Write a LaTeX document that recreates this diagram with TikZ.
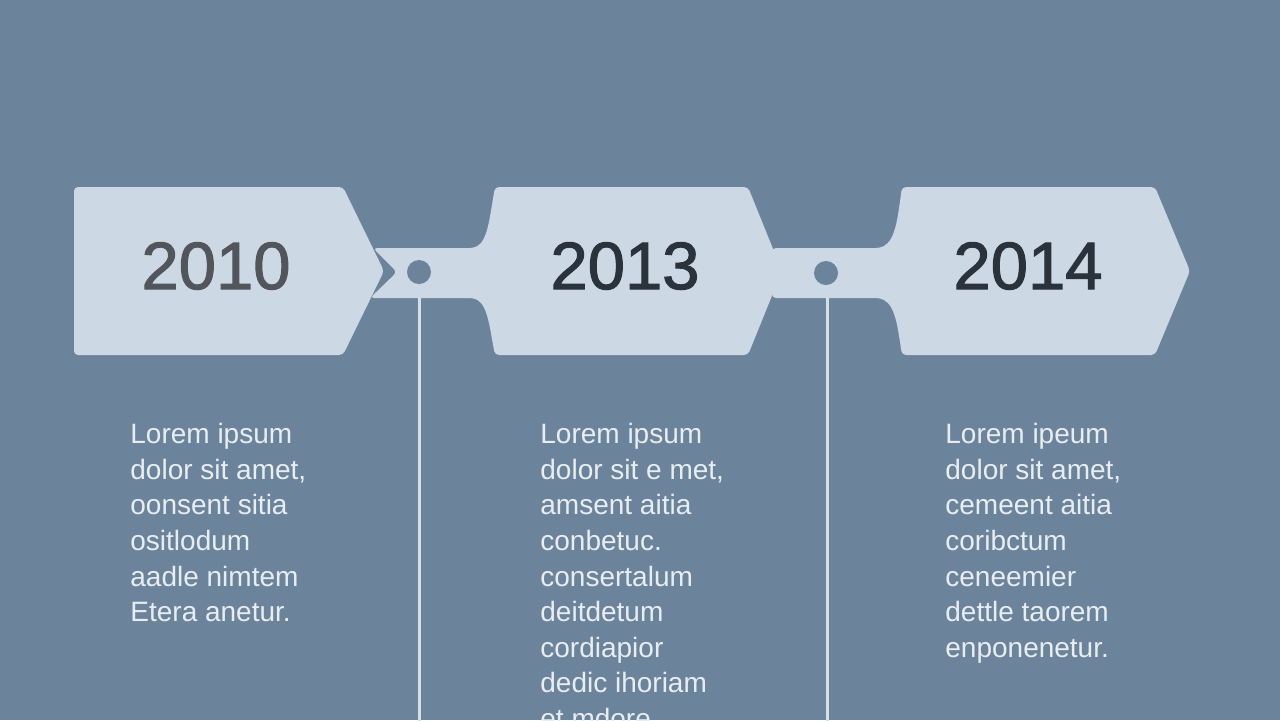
\documentclass[tikz,border=0pt]{standalone}
\usepackage{fontspec}
\setmainfont{Liberation Sans}
\newfontfamily\yearfont[FakeBold=1.6]{Liberation Sans}
\definecolor{bgc}{RGB}{108,132,155}
\definecolor{boxc}{RGB}{204,217,228}
\definecolor{yearlight}{RGB}{82,86,92}
\definecolor{yeardark}{RGB}{42,50,59}
\definecolor{txtc}{RGB}{232,237,242}
\definecolor{linec}{RGB}{214,223,231}
\tikzset{
  x={(0.5pt,0)}, y={(0,-0.5pt)},
  boxshape/.style={fill=boxc, draw=none, rounded corners=2pt},
  yearlabel/.style={font=\yearfont\fontsize{33.5pt}{40pt}\selectfont, inner sep=0pt},
  bodytext/.style={font=\fontsize{14pt}{17.8pt}\selectfont, text=txtc, align=left, anchor=north west, inner sep=0pt},
  dotnode/.style={circle, fill=bgc, minimum size=12pt, inner sep=0pt},
  stem/.style={draw=linec, line width=1.5pt}
}
\begin{document}
\begin{tikzpicture}
\useasboundingbox (0,0) rectangle (1280,720);
\fill[bgc] (0,0) rectangle (1280,720);
\begin{scope}
\clip (0,0) rectangle (1280,720);
% stems
\coordinate (s1top) at (419,296);
\coordinate (s1bot) at (419,725);
\coordinate (s2top) at (827,296);
\coordinate (s2bot) at (827,725);
\draw[stem] (s1top) -- (s1bot);
\draw[stem] (s2top) -- (s2bot);
% box 1
\path[boxshape] (74,187) -- (343,187) -- (384,271) -- (343,355) -- (74,355) -- cycle;
% bar 1 + box 2
\path[boxshape] (373,248) -- (474,248) .. controls (488,240) and (490,215) .. (495,187)
  -- (748,187) -- (782,271) -- (748,355) -- (495,355)
  .. controls (490,330) and (488,306) .. (474,298) -- (370,298) -- (397,272) -- cycle;
% bar 2 + box 3
\path[boxshape] (772,248) -- (880,248) .. controls (896,240) and (898,215) .. (902,187)
  -- (1155,187) -- (1190,271) -- (1155,355) -- (902,355)
  .. controls (898,330) and (896,306) .. (880,298) -- (772,298) -- cycle;
% dots
\node[dotnode] (d1) at (419,272) {};
\node[dotnode] (d2) at (826,273) {};
% years
\node[yearlabel, text=yearlight] (y1) at (216,266) {2010};
\node[yearlabel, text=yeardark] (y2) at (625,266) {2013};
\node[yearlabel, text=yeardark] (y3) at (1028,266) {2014};
% body texts
\node[bodytext] (t1) at (130,423) {Lorem ipsum\\dolor sit amet,\\oonsent sitia\\ositlodum\\aadle nimtem\\Etera anetur.};
\node[bodytext] (t2) at (540,423) {Lorem ipsum\\dolor sit e met,\\amsent aitia\\conbetuc.\\consertalum\\deitdetum\\cordiapior\\dedic ihoriam\\et mdore};
\node[bodytext] (t3) at (945,423) {Lorem ipeum\\dolor sit amet,\\cemeent aitia\\coribctum\\ceneemier\\dettle taorem\\enponenetur.};
\end{scope}
\end{tikzpicture}
\end{document}
